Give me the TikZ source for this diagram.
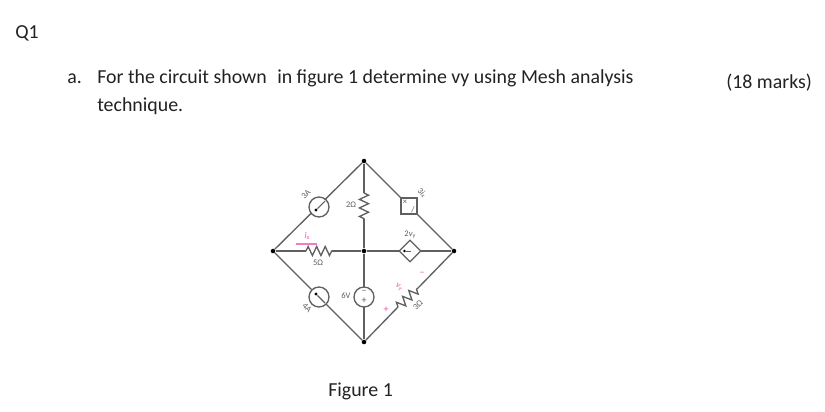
\documentclass[tikz,border=0pt]{standalone}
\usepackage{fontspec}
\setmainfont{Carlito}
\usetikzlibrary{decorations.pathmorphing,shapes.geometric}
\definecolor{wirec}{HTML}{606060}
\definecolor{labc}{HTML}{5E5E5E}
\definecolor{pinkc}{HTML}{F27CC0}
\definecolor{textc}{HTML}{222222}
\tikzset{
  wire/.style={draw=wirec,line width=1pt},
  res/.style={wire,decoration={zigzag,amplitude=3.4pt,segment length=6.4pt},decorate},
  junction/.style={circle,fill=black,inner sep=0pt,minimum size=3.4pt},
  srcround/.style={circle,draw=wirec,line width=1pt,fill=white,inner sep=0pt,minimum size=15pt},
  srcsquare/.style={rectangle,draw=wirec,line width=1pt,fill=white,inner sep=0pt,minimum size=12pt},
  srcdiamond/.style={diamond,draw=wirec,line width=1pt,fill=white,inner sep=0pt,minimum size=16.5pt},
  para/.style={anchor=base west,text=textc,font=\fontsize{14.9pt}{16pt}\selectfont,inner sep=0pt},
  tiny/.style={text=labc,font=\fontsize{6.4pt}{7pt}\selectfont,inner sep=0pt},
  tinyp/.style={text=pinkc,font=\fontsize{6.4pt}{7pt}\selectfont\bfseries,inner sep=0pt}
}
\newcommand{\subx}[2]{\textit{#1}\raisebox{-0.25ex}{\fontsize{4.5pt}{5pt}\selectfont\textit{#2}}}
\begin{document}
\begin{tikzpicture}[x=0.75pt,y=-0.75pt]
\useasboundingbox (0,0) rectangle (825,411);
% text
\node[para] (q) at (15,38) {Q1};
\node[para] (a) at (67,83) {a.};
\node[para] (l1) at (97,83) {For the circuit shown\hspace{0.3em} in figure 1 determine vy using Mesh analysis};
\node[para] (l2) at (97,111) {technique.};
\node[para] (m) at (726,88) {(18 marks)};
\node[para] (f) at (328,396) {Figure 1};
% junctions
\node[junction] (T) at (364,161) {};
\node[junction] (L) at (273,251) {};
\node[junction] (C) at (364,251) {};
\node[junction] (R) at (454,251) {};
\node[junction] (B) at (364,342) {};
% resistor ends
\coordinate (r2a) at (364,193);
\coordinate (r2b) at (364,219);
\coordinate (r5a) at (306,251);
\coordinate (r5b) at (332,251);
\coordinate (r3a) at (398,307);
\coordinate (r3b) at (419,287);
% wires
\draw[wire] (T) -- (L);
\draw[wire] (T) -- (R);
\draw[wire] (L) -- (B);
\draw[wire] (R) -- (r3b);
\draw[wire] (r3a) -- (B);
\draw[wire] (T) -- (r2a);
\draw[wire] (r2b) -- (C);
\draw[wire] (L) -- (r5a);
\draw[wire] (r5b) -- (C);
\draw[wire] (C) -- (R);
\draw[wire] (C) -- (B);
\draw[res] (r2a) -- (r2b);
\draw[res] (r5a) -- (r5b);
\draw[res] (r3a) -- (r3b);
% sources
\node[srcround] (s3) at (319,207) {};
\node[srcround] (s4) at (319,297) {};
\node[srcround] (s6) at (364,297) {};
\node[srcsquare] (sq) at (409,206) {};
\node[srcdiamond] (dm) at (410,251) {};
\node[junction,minimum size=2.6pt] (d3) at (316,210) {};
\coordinate (e3) at (325,201);
\draw[wire,line width=.8pt] (d3) -- (e3);
\node[junction,minimum size=2.6pt] (d4) at (316,294) {};
\coordinate (e4) at (325,303);
\draw[wire,line width=.8pt] (d4) -- (e4);
\node[junction,minimum size=2.2pt] (d6) at (404.5,251) {};
\coordinate (e6) at (411,251);
\draw[wire,line width=.7pt] (d6) -- (e6);
% signs
\node[tiny,font=\fontsize{7.5pt}{8pt}\selectfont] (sm) at (364,292) {–};
\node[tiny,font=\fontsize{7.5pt}{8pt}\selectfont] (sp) at (364,301) {+};
\node[tiny] (qx) at (405,202) {×};
\node[tiny] (qm) at (413,210) {/};
% labels
\node[tiny,rotate=45] (l3a) at (306,194) {3A};
\node[tiny,rotate=-45] (l3i) at (422,193) {3\subx{i}{x}};
\node[tiny] (l2o) at (351,205) {2Ω};
\node[tiny] (l2v) at (410,235) {2\subx{v}{y}};
\node[tiny] (l5o) at (318,263) {5Ω};
\node[tiny] (l6v) at (346,296) {6V};
\node[tiny,rotate=-45] (l4a) at (307,308) {4A};
\node[tiny,rotate=45] (l3o) at (418,305) {3Ω};
\node[tinyp] (lix) at (307,236) {\subx{i}{x}};
\node[tinyp,rotate=-30] (lvy) at (399,287) {\subx{v}{y}};
\node[tinyp,font=\fontsize{7.5pt}{8pt}\selectfont\bfseries] (lp) at (386,310) {+};
\node[tinyp,font=\fontsize{7.5pt}{8pt}\selectfont\bfseries] (lm) at (422,274) {–};
\coordinate (ia) at (296,244);
\coordinate (ib) at (317,244);
\draw[draw=pinkc,line width=1.1pt] (ia) -- (ib);
\end{tikzpicture}
\end{document}
